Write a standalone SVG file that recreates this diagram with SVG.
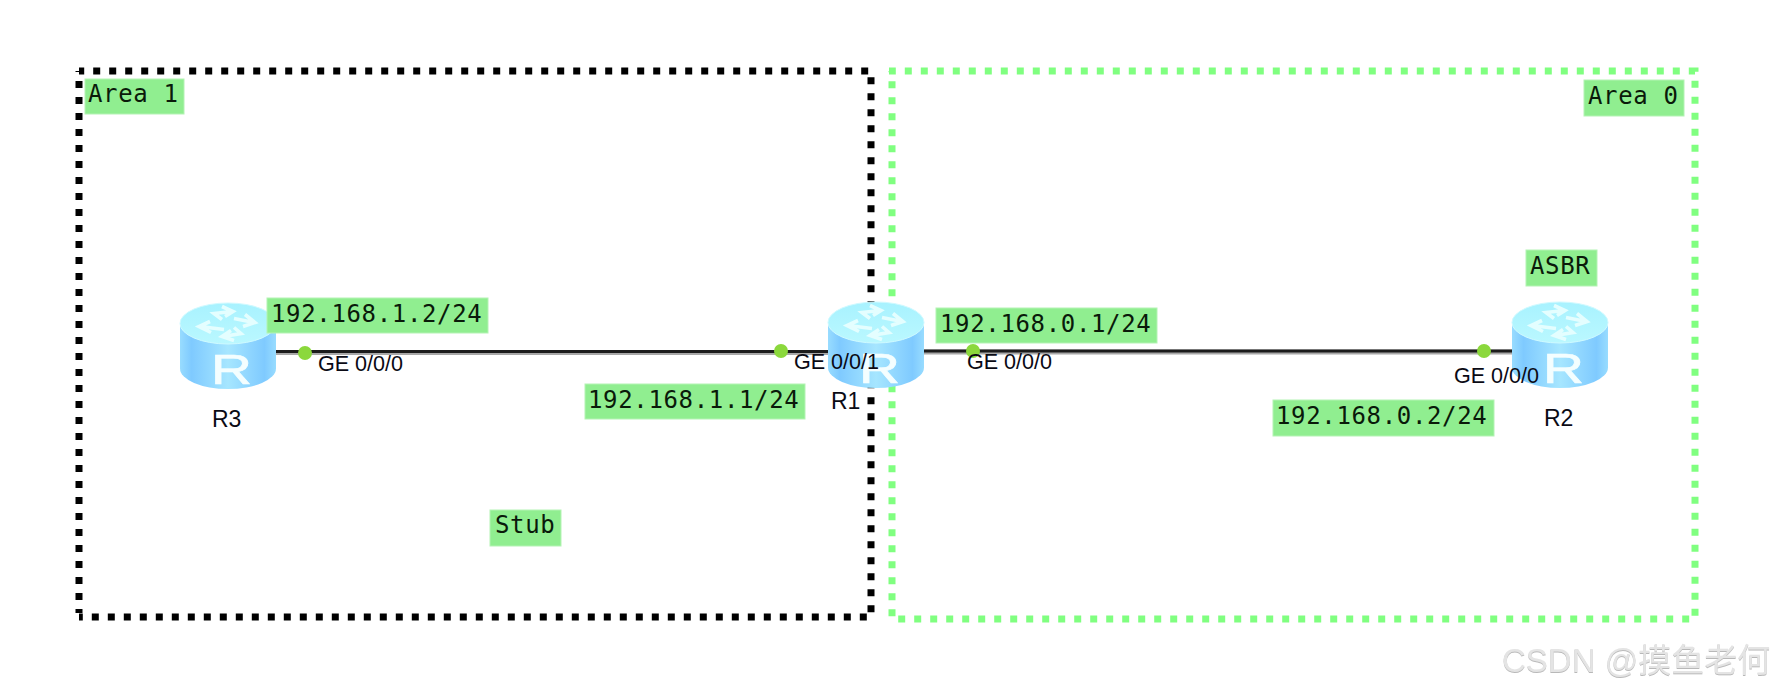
<svg xmlns="http://www.w3.org/2000/svg" xmlns:xlink="http://www.w3.org/1999/xlink" width="1772" height="690" viewBox="0 0 1772 690">
<style>
.zone{fill:none;stroke-width:7;stroke-dasharray:7 9}
.tag{fill:#90ee90;stroke:#b4f3b4;stroke-width:1}
.mono{font-family:"DejaVu Sans Mono","Liberation Mono",monospace;font-size:24px;letter-spacing:.65px;fill:#0a1a0a}
.lbl{font-family:"Liberation Sans",Arial,sans-serif;font-size:21.500px;fill:#0a0a14}
.name{font-family:"Liberation Sans",Arial,sans-serif;font-size:23px;fill:#0a0a14}
.R{font-family:"Liberation Sans",Arial,sans-serif;font-size:43px;fill:#f4feff;stroke:#f4feff;stroke-width:.7}
.dot{fill:#8bd83c}
.wire-g{stroke:#a8a8a8;stroke-width:5;fill:none}
.wire-b{stroke:#1c1c1c;stroke-width:3;fill:none}
.arr{fill:none;stroke:#e4feff;stroke-width:3.600;stroke-linejoin:miter}
</style>
<defs>
<linearGradient id="body" x1="0" x2="1" y1="0" y2="0">
<stop offset="0" stop-color="#98dcff"/><stop offset=".12" stop-color="#7fcaff"/><stop offset=".5" stop-color="#a6e6ff"/><stop offset=".88" stop-color="#7fcaff"/><stop offset="1" stop-color="#98dcff"/>
</linearGradient>
<linearGradient id="top" x1="0" x2="0" y1="0" y2="1">
<stop offset="0" stop-color="#a8f2ff"/><stop offset="1" stop-color="#baf8ff"/>
</linearGradient>
<filter id="emboss" x="-5%" y="-10%" width="110%" height="130%"><feDropShadow dx="0" dy="1" stdDeviation=".6" flood-color="#b8b8b8"/></filter>
<g id="router">
<path d="M-48 0V45A48 20.5 0 0 0 48 45V0Z" fill="url(#body)"/>
<ellipse cx="0" cy="0" rx="48" ry="20.5" fill="url(#top)" stroke="#cffaff" stroke-width="1"/>
<path class="arr" d="M6 -5L26 -1M17 -9L27 -1L15 3"/>
<path class="arr" d="M-4 6L-28 3M-18 -2L-29 3L-17 9"/>
<path class="arr" d="M-6 -4L-14 -10L4 -12M-6 -17L5 -12L-3 -7"/>
<path class="arr" d="M6 4L13 10L-5 13M6 17L-6 13L3 7"/>
</g>
</defs>
<rect width="1772" height="690" fill="#ffffff"/>
<g id="area1-zone"><path class="zone" stroke="#000000" d="M79 71H871V617H79" stroke-dashoffset="1.800"/><path class="zone" stroke="#000000" d="M79 613V71" stroke-dashoffset="3"/></g>
<g id="area0-zone"><path class="zone" stroke="#80ff80" d="M889 71H1695V619H892V71" stroke-dashoffset=".2"/></g>
<g id="connectors">
<path class="wire-g" d="M276 352.500H828M924 352H1512"/>
<path class="wire-b" d="M276 351.500H828M924 351H1512"/>
</g>
<g id="R3"><use xlink:href="#router" href="#router" x="228" y="323.500"/><text class="R" x="211" y="384" textLength="41" lengthAdjust="spacingAndGlyphs">R</text><text class="name" x="212" y="427">R3</text></g>
<g id="R1"><use xlink:href="#router" href="#router" x="876" y="322.500"/><text class="R" x="859" y="383" textLength="41" lengthAdjust="spacingAndGlyphs">R</text><text class="name" x="831" y="409">R1</text></g>
<g id="R2"><use xlink:href="#router" href="#router" x="1560" y="322.500"/><text class="R" x="1543" y="383" textLength="41" lengthAdjust="spacingAndGlyphs">R</text><text class="name" x="1544" y="426">R2</text></g>
<g id="port-R3-GE000"><circle class="dot" cx="305" cy="353" r="7"/><text class="lbl" x="318" y="371" textLength="85" lengthAdjust="spacingAndGlyphs">GE 0/0/0</text></g>
<g id="port-R1-GE001"><circle class="dot" cx="781" cy="351" r="7"/><text class="lbl" x="794" y="369" textLength="85" lengthAdjust="spacingAndGlyphs">GE 0/0/1</text></g>
<g id="port-R1-GE000"><circle class="dot" cx="973" cy="351" r="7"/><text class="lbl" x="967" y="369" textLength="85" lengthAdjust="spacingAndGlyphs">GE 0/0/0</text></g>
<g id="port-R2-GE000"><circle class="dot" cx="1484" cy="351" r="7"/><text class="lbl" x="1454" y="383" textLength="85" lengthAdjust="spacingAndGlyphs">GE 0/0/0</text></g>
<g id="tag-area1"><rect class="tag" x="85" y="79" width="99" height="35"/><text class="mono" x="88" y="102">Area 1</text></g>
<g id="tag-area0"><rect class="tag" x="1584" y="80" width="100" height="36"/><text class="mono" x="1588" y="104">Area 0</text></g>
<g id="tag-stub"><rect class="tag" x="490" y="510" width="71" height="36"/><text class="mono" x="495" y="533">Stub</text></g>
<g id="tag-asbr"><rect class="tag" x="1526" y="250" width="71" height="36"/><text class="mono" x="1530" y="274">ASBR</text></g>
<g id="tag-r3-ip"><rect class="tag" x="267" y="298" width="221" height="35"/><text class="mono" x="271" y="322">192.168.1.2/24</text></g>
<g id="tag-r1-ip1"><rect class="tag" x="585" y="384" width="220" height="35"/><text class="mono" x="588" y="408">192.168.1.1/24</text></g>
<g id="tag-r1-ip0"><rect class="tag" x="936" y="308" width="221" height="35"/><text class="mono" x="940" y="332">192.168.0.1/24</text></g>
<g id="tag-r2-ip"><rect class="tag" x="1273" y="400" width="221" height="36"/><text class="mono" x="1276" y="424">192.168.0.2/24</text></g>
<text id="watermark" x="1502" y="672" font-family="'Liberation Sans','Noto Sans CJK SC',sans-serif" font-size="33" fill="#e4e4e4" filter="url(#emboss)">CSDN @摸鱼老何</text>
</svg>
